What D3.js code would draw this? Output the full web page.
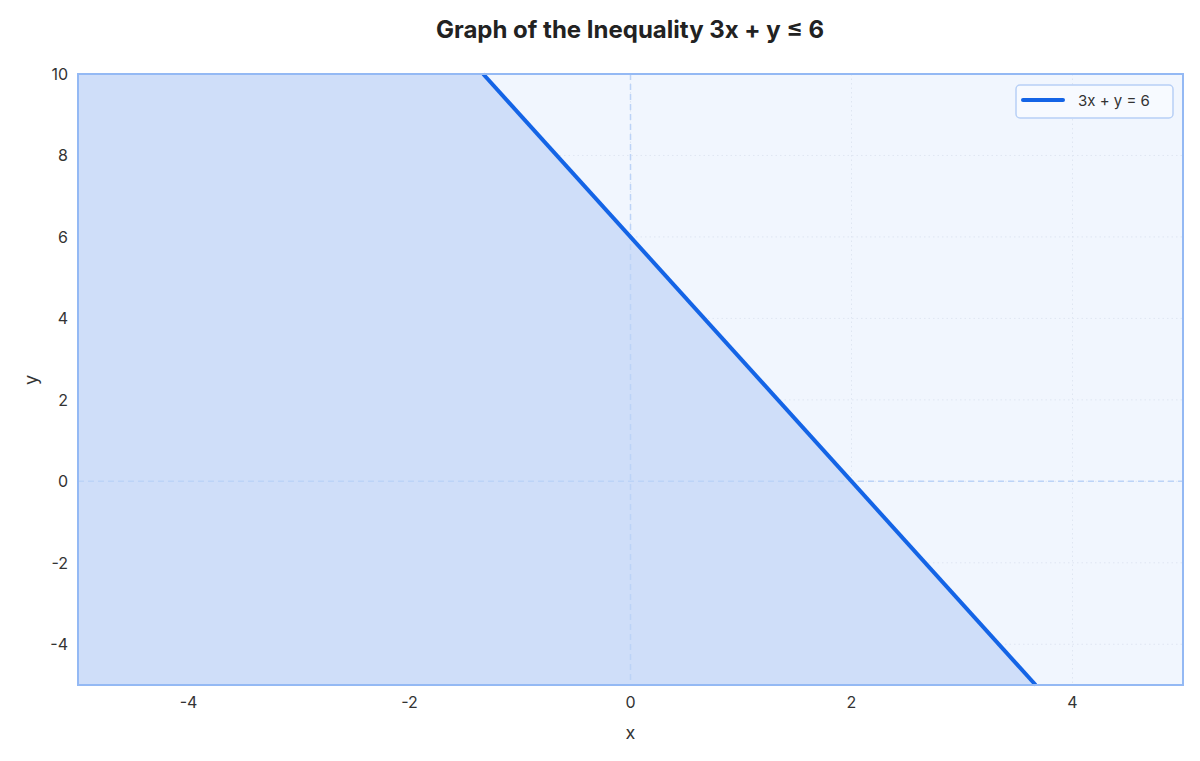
<!DOCTYPE html>
<html><head><meta charset="utf-8">
<script src="https://cdn.jsdelivr.net/npm/d3@7"></script>
<style>body{margin:0;background:#fff;font-family:Inter,"Noto Sans",sans-serif}</style>
</head><body><svg id="c" width="1200" height="761"></svg>
<script>
const xTicks=[-4,-2,0,2,4];
const yTicks=[-4,-2,0,2,4,6,8,10];
const xDomain=[-5,5], yDomain=[-5,10];
const lineA=3, lineC=6; // 3x + y = 6
const lineLabel="3x + y = 6";
const title="Graph of the Inequality 3x + y ≤ 6";

const svg=d3.select("#c");
const L=78,R=1183,T=74,B=685;
const x=d3.scaleLinear().domain(xDomain).range([L,R]);
const y=d3.scaleLinear().domain(yDomain).range([B,T]);
const f=v=>lineC-lineA*v;
const xAt=yv=>(lineC-yv)/lineA;

svg.append("rect").attr("x",L).attr("y",T).attr("width",R-L).attr("height",B-T).attr("fill","#f1f6fe");
// grid
svg.append("g").selectAll("line").data(xTicks).join("line")
 .attr("x1",d=>x(d)).attr("x2",d=>x(d)).attr("y1",T).attr("y2",B)
 .attr("stroke","#dfe6f2").attr("stroke-dasharray","1.5,3");
svg.append("g").selectAll("line").data(yTicks).join("line")
 .attr("y1",d=>y(d)).attr("y2",d=>y(d)).attr("x1",L).attr("x2",R)
 .attr("stroke","#dfe6f2").attr("stroke-dasharray","1.5,3");
// shaded region
const xTop=xAt(yDomain[1]), xBot=xAt(yDomain[0]);
const poly=[[xDomain[0],yDomain[1]],[xTop,yDomain[1]],[xBot,yDomain[0]],[xDomain[0],yDomain[0]]];
svg.append("path").attr("d",d3.line().x(d=>x(d[0])).y(d=>y(d[1]))(poly)+"Z").attr("fill","#cfdef9");
// axes lines
svg.append("line").attr("x1",x(0)).attr("x2",x(0)).attr("y1",T).attr("y2",B)
 .attr("stroke","#bcd3f7").attr("stroke-width",1.5).attr("stroke-dasharray","6,4");
svg.append("line").attr("y1",y(0)).attr("y2",y(0)).attr("x1",L).attr("x2",R)
 .attr("stroke","#bcd3f7").attr("stroke-width",1.5).attr("stroke-dasharray","6,4");
// boundary line
svg.append("line").attr("x1",x(xTop)).attr("y1",y(yDomain[1])).attr("x2",x(xBot)).attr("y2",y(yDomain[0]))
 .attr("stroke","#1464e6").attr("stroke-width",4);
svg.append("rect").attr("x",L).attr("y",T).attr("width",R-L).attr("height",B-T).attr("fill","none").attr("stroke","#94b9f4").attr("stroke-width",2);
// tick labels
svg.append("g").selectAll("text").data(xTicks).join("text")
 .attr("x",d=>x(d)).attr("y",708).attr("text-anchor","middle").attr("font-size",16).attr("fill","#333")
 .text(d=>d);
svg.append("g").selectAll("text").data(yTicks).join("text")
 .attr("x",68).attr("y",d=>y(d)+6).attr("text-anchor","end").attr("font-size",16).attr("fill","#333")
 .text(d=>d);
svg.append("text").attr("x",(L+R)/2).attr("y",739).attr("text-anchor","middle").attr("font-size",18).attr("fill","#333").text("x");
svg.append("text").attr("transform","translate(37,380) rotate(-90)").attr("text-anchor","middle").attr("font-size",18).attr("fill","#333").text("y");
svg.append("text").attr("x",630).attr("y",38).attr("text-anchor","middle").attr("font-size",24).attr("font-weight","bold").attr("fill","#222").text(title);
// legend
const lg=svg.append("g");
lg.append("rect").attr("x",1016).attr("y",85).attr("width",157).attr("height",33).attr("rx",4).attr("fill","#f7faff").attr("stroke","#b8d0f6").attr("stroke-width",1.5);
lg.append("line").attr("x1",1023).attr("x2",1063).attr("y1",100).attr("y2",100).attr("stroke","#1464e6").attr("stroke-width",4).attr("stroke-linecap","round");
lg.append("text").attr("x",1078).attr("y",106).attr("font-size",15).attr("fill","#333").text(lineLabel);
</script></body></html>
